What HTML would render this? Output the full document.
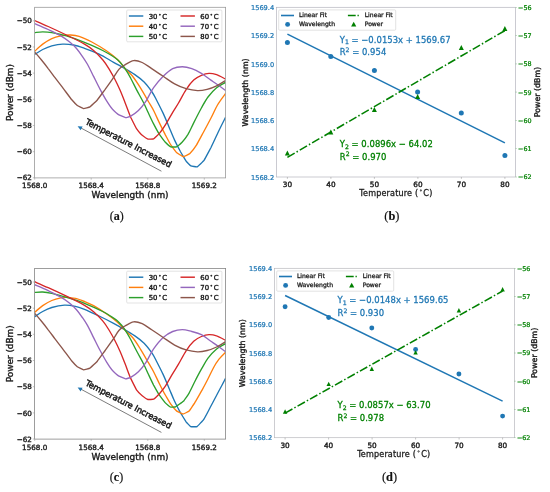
<!DOCTYPE html><html><head><meta charset="utf-8"><title>figure</title><style>html,body{margin:0;padding:0;background:#fff}svg{display:block}</style></head><body>
<svg width="550" height="492" viewBox="0 0 550 492" font-family="DejaVu Sans, Liberation Sans, sans-serif">
<rect width="550" height="492" fill="#fff"/>
<g>
<clipPath id="clipa"><rect x="34.6" y="7.3" width="191.0" height="170.6"/></clipPath>
<g clip-path="url(#clipa)" fill="none" stroke-width="1.35" stroke-linejoin="round" stroke-linecap="butt">
<path d="M34.5,54.5C35.9,53.7 39.8,50.9 42.7,49.5C45.6,48.1 48.5,46.8 51.8,45.9C55.1,45.0 59.1,44.2 62.7,44.1C66.3,44.0 70.0,44.3 73.6,45.0C77.2,45.7 80.2,46.8 84.5,48.3C88.8,49.8 94.2,51.8 99.1,54.1C103.9,56.4 109.3,59.9 113.6,62.3C117.9,64.7 121.5,66.6 125.0,68.6C128.5,70.6 131.3,72.2 134.5,74.4C137.7,76.6 141.2,79.2 144.1,82.0C147.0,84.8 149.6,88.5 151.7,91.5C153.8,94.5 154.6,96.3 156.5,100.0C158.4,103.7 161.1,109.0 163.2,113.4C165.3,117.9 167.0,122.2 168.9,126.7C170.8,131.2 172.7,136.0 174.6,140.1C176.5,144.2 178.5,148.0 180.4,151.5C180.9,152.3 185.7,160.5 186.1,161.1C186.5,161.7 190.5,165.7 190.9,165.9C191.3,166.1 196.7,167.0 197.2,166.8C197.7,166.6 203.7,160.9 204.2,160.1C204.7,159.3 210.3,148.8 210.9,147.7C213.3,142.9 216.1,136.6 218.5,131.5C220.9,126.4 224.4,119.6 225.6,117.2" stroke="#1f77b4"/>
<path d="M34.5,51.4C35.9,50.2 39.8,46.2 42.7,44.1C45.6,42.0 48.8,40.0 51.8,38.6C54.8,37.2 57.9,36.5 60.9,35.9C63.9,35.3 67.0,34.9 70.0,35.0C73.0,35.1 75.5,35.1 79.1,36.3C82.7,37.5 87.2,39.6 91.8,42.0C96.3,44.4 102.0,47.8 106.4,50.8C110.8,53.8 114.9,57.0 118.0,60.0C121.1,63.0 122.6,65.9 125.0,68.6C127.4,71.3 130.0,73.1 132.6,76.3C135.2,79.5 137.7,83.5 140.3,87.7C142.9,91.9 146.2,97.7 148.4,101.5C150.6,105.3 151.8,106.9 153.6,110.5C155.4,114.1 157.5,118.9 159.4,122.9C161.3,126.9 163.2,130.7 165.1,134.4C165.6,135.3 170.3,144.2 170.8,144.9C171.3,145.6 176.0,152.0 176.5,152.5C177.0,153.0 182.7,156.7 183.2,156.7C183.7,156.7 189.4,154.0 189.9,153.5C190.4,153.0 196.1,145.7 196.6,144.9C197.1,144.1 202.7,133.6 203.3,132.5C205.7,128.0 208.6,122.6 211.0,118.0C213.4,113.4 215.1,109.1 217.5,105.0C219.9,100.9 224.2,95.4 225.6,93.5" stroke="#ff7f0e"/>
<path d="M34.5,32.6C35.9,32.5 39.8,31.9 42.7,31.9C45.6,31.9 47.8,31.9 51.8,32.6C55.8,33.3 61.0,34.3 66.4,35.9C71.9,37.5 78.5,39.9 84.5,42.3C90.5,44.7 97.2,47.6 102.7,50.5C108.2,53.4 113.6,56.5 117.3,59.5C121.0,62.5 122.8,65.5 125.0,68.6C127.2,71.7 128.8,74.7 130.7,78.2C132.6,81.7 134.4,85.5 136.5,89.6C138.6,93.6 141.6,98.8 143.5,102.5C145.4,106.2 146.2,108.4 147.9,112.0C149.6,115.6 151.7,120.2 153.6,123.9C155.5,127.6 157.5,131.4 159.4,134.4C159.9,135.1 164.6,141.5 165.1,142.0C165.6,142.5 170.3,146.6 170.8,146.8C171.3,147.0 176.0,147.0 176.5,146.8C177.0,146.6 181.8,142.5 182.3,142.0C182.8,141.5 187.5,135.2 188.0,134.4C189.9,131.2 191.5,127.3 193.7,122.9C195.9,118.5 199.0,112.3 201.4,108.0C203.8,103.7 205.5,100.4 208.0,97.0C210.5,93.6 213.7,90.1 216.6,87.7C219.5,85.3 224.1,83.3 225.6,82.4" stroke="#2ca02c"/>
<path d="M34.5,20.5C36.8,21.5 42.9,24.1 48.2,26.5C53.5,28.9 60.4,32.1 66.4,35.0C72.5,37.9 80.0,41.5 84.5,44.1C89.0,46.7 90.6,47.9 93.6,50.5C96.6,53.1 100.1,56.7 102.7,59.7C105.3,62.8 107.0,65.5 109.0,68.8C111.0,72.1 113.2,76.0 115.0,79.5C116.8,83.0 118.3,86.2 120.0,90.0C121.7,93.8 123.2,97.9 125.0,102.4C126.8,106.9 128.8,112.8 130.7,117.2C131.2,118.2 136.0,127.9 136.5,128.6C137.0,129.3 141.7,134.9 142.2,135.3C142.7,135.7 147.4,139.0 147.9,139.1C148.4,139.2 153.1,139.0 153.6,138.8C154.1,138.6 158.9,134.0 159.4,133.4C159.9,132.8 165.5,124.7 166.0,123.9C168.2,120.4 170.6,115.9 172.7,112.4C174.8,108.9 176.3,106.8 178.5,103.0C180.7,99.2 183.6,93.4 186.1,89.6C188.6,85.8 191.1,82.5 193.7,80.1C196.2,77.7 198.8,76.4 201.4,75.3C204.0,74.2 206.5,73.5 209.0,73.4C211.5,73.3 213.8,73.8 216.6,74.7C219.4,75.7 224.1,78.4 225.6,79.1" stroke="#d62728"/>
<path d="M34.5,23.5C36.8,24.5 43.8,27.4 48.2,29.5C52.6,31.6 57.3,33.8 60.9,35.9C64.5,38.0 67.4,40.2 70.0,42.3C72.6,44.4 74.5,46.2 76.5,48.5C78.5,50.8 80.2,53.2 82.0,55.8C83.8,58.4 85.4,60.6 87.3,64.0C89.2,67.4 91.5,72.2 93.6,76.4C95.7,80.6 97.8,85.0 100.0,89.1C102.2,93.2 104.7,97.8 106.8,101.2C107.3,102.0 112.0,108.8 112.5,109.3C113.0,109.8 118.0,114.3 118.5,114.6C119.0,114.9 125.0,117.5 125.5,117.6C126.0,117.7 130.2,116.5 130.7,116.2C131.2,115.9 137.8,111.2 138.4,110.6C139.0,110.0 145.4,102.0 146.0,101.1C148.5,97.3 150.7,91.8 153.6,87.7C156.5,83.6 160.0,79.5 163.2,76.3C166.4,73.1 169.5,70.2 172.7,68.6C175.9,67.0 179.1,66.7 182.3,66.7C185.5,66.7 188.6,67.5 191.8,68.6C195.0,69.7 198.2,71.5 201.4,73.4C204.6,75.3 207.7,77.9 210.9,80.1C214.1,82.3 218.1,85.0 220.5,86.8C222.9,88.5 224.8,90.0 225.6,90.6" stroke="#9467bd"/>
<path d="M34.5,51.9C35.7,53.2 39.2,57.2 41.5,60.0C43.8,62.8 46.0,65.6 48.2,68.6C50.5,71.5 52.6,74.5 55.0,77.7C57.4,80.9 59.9,84.0 62.7,87.7C63.4,88.6 71.2,99.1 71.8,99.8C72.4,100.5 76.8,105.1 77.3,105.5C77.8,105.9 83.1,108.6 83.6,108.7C84.1,108.8 89.5,107.2 90.0,106.9C90.5,106.6 96.7,100.7 97.3,100.0C97.9,99.3 104.2,90.6 104.8,89.8C107.3,86.3 109.9,82.8 112.3,79.3C114.7,75.8 117.0,71.5 119.1,69.1C121.2,66.7 122.6,66.2 125.0,64.8C127.4,63.4 130.7,61.0 133.6,60.6C136.5,60.2 139.2,61.2 142.2,62.5C145.2,63.8 148.2,66.3 151.7,68.6C155.2,70.9 159.4,73.8 163.2,76.3C167.0,78.8 170.8,81.8 174.6,83.9C178.4,86.0 182.3,87.6 186.1,88.7C189.9,89.8 194.0,90.5 197.5,90.6C201.0,90.7 203.9,90.1 207.1,89.3C210.3,88.5 213.5,87.3 216.6,85.8C219.7,84.3 224.1,81.4 225.6,80.5" stroke="#8c564b"/>
</g>
<rect x="34.6" y="7.3" width="191.0" height="170.6" fill="none" stroke="#9a9a9a" stroke-width="0.8"/>
<line x1="32.800000000000004" x2="34.6" y1="20.8" y2="20.8" stroke="#9a9a9a" stroke-width="0.6"/>
<text x="31.8" y="23.4" text-anchor="end" font-size="7.2" fill="#1a1a1a" stroke="#1a1a1a" stroke-width="0.38">−50</text>
<line x1="32.800000000000004" x2="34.6" y1="47.0" y2="47.0" stroke="#9a9a9a" stroke-width="0.6"/>
<text x="31.8" y="49.6" text-anchor="end" font-size="7.2" fill="#1a1a1a" stroke="#1a1a1a" stroke-width="0.38">−52</text>
<line x1="32.800000000000004" x2="34.6" y1="73.1" y2="73.1" stroke="#9a9a9a" stroke-width="0.6"/>
<text x="31.8" y="75.7" text-anchor="end" font-size="7.2" fill="#1a1a1a" stroke="#1a1a1a" stroke-width="0.38">−54</text>
<line x1="32.800000000000004" x2="34.6" y1="99.3" y2="99.3" stroke="#9a9a9a" stroke-width="0.6"/>
<text x="31.8" y="101.9" text-anchor="end" font-size="7.2" fill="#1a1a1a" stroke="#1a1a1a" stroke-width="0.38">−56</text>
<line x1="32.800000000000004" x2="34.6" y1="125.5" y2="125.5" stroke="#9a9a9a" stroke-width="0.6"/>
<text x="31.8" y="128.1" text-anchor="end" font-size="7.2" fill="#1a1a1a" stroke="#1a1a1a" stroke-width="0.38">−58</text>
<line x1="32.800000000000004" x2="34.6" y1="151.7" y2="151.7" stroke="#9a9a9a" stroke-width="0.6"/>
<text x="31.8" y="154.3" text-anchor="end" font-size="7.2" fill="#1a1a1a" stroke="#1a1a1a" stroke-width="0.38">−60</text>
<line x1="32.800000000000004" x2="34.6" y1="177.8" y2="177.8" stroke="#9a9a9a" stroke-width="0.6"/>
<text x="31.8" y="180.4" text-anchor="end" font-size="7.2" fill="#1a1a1a" stroke="#1a1a1a" stroke-width="0.38">−62</text>
<line x1="34.7" x2="34.7" y1="177.9" y2="179.70000000000002" stroke="#9a9a9a" stroke-width="0.6"/>
<text x="34.7" y="188.2" text-anchor="middle" font-size="7.2" fill="#1a1a1a" stroke="#1a1a1a" stroke-width="0.38">1568.0</text>
<line x1="91.2" x2="91.2" y1="177.9" y2="179.70000000000002" stroke="#9a9a9a" stroke-width="0.6"/>
<text x="91.2" y="188.2" text-anchor="middle" font-size="7.2" fill="#1a1a1a" stroke="#1a1a1a" stroke-width="0.38">1568.4</text>
<line x1="147.8" x2="147.8" y1="177.9" y2="179.70000000000002" stroke="#9a9a9a" stroke-width="0.6"/>
<text x="147.8" y="188.2" text-anchor="middle" font-size="7.2" fill="#1a1a1a" stroke="#1a1a1a" stroke-width="0.38">1568.8</text>
<line x1="204.3" x2="204.3" y1="177.9" y2="179.70000000000002" stroke="#9a9a9a" stroke-width="0.6"/>
<text x="204.3" y="188.2" text-anchor="middle" font-size="7.2" fill="#1a1a1a" stroke="#1a1a1a" stroke-width="0.38">1569.2</text>
<text x="130" y="198.1" text-anchor="middle" font-size="8.95" fill="#1a1a1a" stroke="#1a1a1a" stroke-width="0.38">Wavelength (nm)</text>
<text transform="translate(13.0,92.6) rotate(-90)" text-anchor="middle" font-size="8.9" fill="#1a1a1a" stroke="#1a1a1a" stroke-width="0.38">Power (dBm)</text>
<rect x="126.7" y="10" width="95.2" height="31.8" rx="1" fill="#fff" fill-opacity="0.8" stroke="#d0d0d0" stroke-width="0.6"/>
<line x1="128.9" x2="143.3" y1="16.0" y2="16.0" stroke="#1f77b4" stroke-width="1.45"/>
<text x="148.70000000000002" y="18.5" font-size="6.9" fill="#1a1a1a" stroke="#1a1a1a" stroke-width="0.38">30<tspan font-size="4.4" dy="-2.9" dx="1.0">∘</tspan><tspan dy="2.9" dx="0.9">C</tspan></text>
<line x1="128.9" x2="143.3" y1="26.2" y2="26.2" stroke="#ff7f0e" stroke-width="1.45"/>
<text x="148.70000000000002" y="28.7" font-size="6.9" fill="#1a1a1a" stroke="#1a1a1a" stroke-width="0.38">40<tspan font-size="4.4" dy="-2.9" dx="1.0">∘</tspan><tspan dy="2.9" dx="0.9">C</tspan></text>
<line x1="128.9" x2="143.3" y1="36.4" y2="36.4" stroke="#2ca02c" stroke-width="1.45"/>
<text x="148.70000000000002" y="38.9" font-size="6.9" fill="#1a1a1a" stroke="#1a1a1a" stroke-width="0.38">50<tspan font-size="4.4" dy="-2.9" dx="1.0">∘</tspan><tspan dy="2.9" dx="0.9">C</tspan></text>
<line x1="180.5" x2="194.9" y1="16.0" y2="16.0" stroke="#d62728" stroke-width="1.45"/>
<text x="200.3" y="18.5" font-size="6.9" fill="#1a1a1a" stroke="#1a1a1a" stroke-width="0.38">60<tspan font-size="4.4" dy="-2.9" dx="1.0">∘</tspan><tspan dy="2.9" dx="0.9">C</tspan></text>
<line x1="180.5" x2="194.9" y1="26.2" y2="26.2" stroke="#9467bd" stroke-width="1.45"/>
<text x="200.3" y="28.7" font-size="6.9" fill="#1a1a1a" stroke="#1a1a1a" stroke-width="0.38">70<tspan font-size="4.4" dy="-2.9" dx="1.0">∘</tspan><tspan dy="2.9" dx="0.9">C</tspan></text>
<line x1="180.5" x2="194.9" y1="36.4" y2="36.4" stroke="#8c564b" stroke-width="1.45"/>
<text x="200.3" y="38.9" font-size="6.9" fill="#1a1a1a" stroke="#1a1a1a" stroke-width="0.38">80<tspan font-size="4.4" dy="-2.9" dx="1.0">∘</tspan><tspan dy="2.9" dx="0.9">C</tspan></text>
<line x1="161.4" y1="171.2" x2="80.4" y2="127.7" stroke="#444" stroke-width="0.7"/>
<path transform="translate(77.9,126.4) rotate(-151.8)" d="M0.3,0 L-4.2,-2.1 L-4.2,2.1 Z" fill="#1f77b4"/>
<text transform="translate(84.7,123.8) rotate(27.3)" font-size="8.6" textLength="95.5" lengthAdjust="spacingAndGlyphs" fill="#1a1a1a" class="b" stroke="#1a1a1a" stroke-width="0.5">Temperature Increased</text>
<text x="109.8" y="219.5" font-family="Liberation Serif, serif" font-size="12" fill="#111" stroke="#111" stroke-width="0.15">(<tspan font-weight="bold">a</tspan>)</text>
</g>
<g>
<line x1="287.4" y1="34.2" x2="504.9" y2="142.8" stroke="#1f77b4" stroke-width="1.5"/>
<line x1="287.4" y1="157.3" x2="504.9" y2="30.6" stroke="#008000" stroke-width="1.55" stroke-dasharray="8.4,2.2,1.5,2.2"/>
<circle cx="287.4" cy="42.5" r="2.5" fill="#1f77b4"/>
<circle cx="330.8" cy="56.4" r="2.5" fill="#1f77b4"/>
<circle cx="374.4" cy="70.4" r="2.5" fill="#1f77b4"/>
<circle cx="417.6" cy="91.9" r="2.5" fill="#1f77b4"/>
<circle cx="461.3" cy="113" r="2.5" fill="#1f77b4"/>
<circle cx="504.9" cy="155.6" r="2.5" fill="#1f77b4"/>
<path d="M287.4,150.4 L289.9,155.4 L284.9,155.4 Z" fill="#008000"/>
<path d="M330.8,129.5 L333.3,134.5 L328.3,134.5 Z" fill="#008000"/>
<path d="M374.4,107.1 L376.9,112.1 L371.9,112.1 Z" fill="#008000"/>
<path d="M417.6,94.1 L420.1,99.1 L415.1,99.1 Z" fill="#008000"/>
<path d="M461.3,44.9 L463.8,49.9 L458.8,49.9 Z" fill="#008000"/>
<path d="M504.9,26.1 L507.4,31.1 L502.4,31.1 Z" fill="#008000"/>
<rect x="276.5" y="7.3" width="239.10000000000002" height="169.7" fill="none" stroke="#b4b4be" stroke-width="0.7"/>
<text x="274.2" y="9.9" text-anchor="end" font-size="6.65" fill="#1f77b4" class="t" stroke="#1f77b4" stroke-width="0.24">1569.4</text>
<text x="274.2" y="38.2" text-anchor="end" font-size="6.65" fill="#1f77b4" class="t" stroke="#1f77b4" stroke-width="0.24">1569.2</text>
<text x="274.2" y="66.5" text-anchor="end" font-size="6.65" fill="#1f77b4" class="t" stroke="#1f77b4" stroke-width="0.24">1569.0</text>
<text x="274.2" y="94.7" text-anchor="end" font-size="6.65" fill="#1f77b4" class="t" stroke="#1f77b4" stroke-width="0.24">1568.8</text>
<text x="274.2" y="123.0" text-anchor="end" font-size="6.65" fill="#1f77b4" class="t" stroke="#1f77b4" stroke-width="0.24">1568.6</text>
<text x="274.2" y="151.3" text-anchor="end" font-size="6.65" fill="#1f77b4" class="t" stroke="#1f77b4" stroke-width="0.24">1568.4</text>
<text x="274.2" y="179.6" text-anchor="end" font-size="6.65" fill="#1f77b4" class="t" stroke="#1f77b4" stroke-width="0.24">1568.2</text>
<line x1="515.6" x2="516.9" y1="7.3" y2="7.3" stroke="#008000" stroke-width="0.5" opacity="0.6"/>
<text x="518.1" y="9.7" font-size="6.4" fill="#008000" class="t" stroke="#008000" stroke-width="0.24">−56</text>
<line x1="515.6" x2="516.9" y1="35.6" y2="35.6" stroke="#008000" stroke-width="0.5" opacity="0.6"/>
<text x="518.1" y="38.0" font-size="6.4" fill="#008000" class="t" stroke="#008000" stroke-width="0.24">−57</text>
<line x1="515.6" x2="516.9" y1="63.9" y2="63.9" stroke="#008000" stroke-width="0.5" opacity="0.6"/>
<text x="518.1" y="66.3" font-size="6.4" fill="#008000" class="t" stroke="#008000" stroke-width="0.24">−58</text>
<line x1="515.6" x2="516.9" y1="92.1" y2="92.1" stroke="#008000" stroke-width="0.5" opacity="0.6"/>
<text x="518.1" y="94.5" font-size="6.4" fill="#008000" class="t" stroke="#008000" stroke-width="0.24">−59</text>
<line x1="515.6" x2="516.9" y1="120.4" y2="120.4" stroke="#008000" stroke-width="0.5" opacity="0.6"/>
<text x="518.1" y="122.8" font-size="6.4" fill="#008000" class="t" stroke="#008000" stroke-width="0.24">−60</text>
<line x1="515.6" x2="516.9" y1="148.7" y2="148.7" stroke="#008000" stroke-width="0.5" opacity="0.6"/>
<text x="518.1" y="151.1" font-size="6.4" fill="#008000" class="t" stroke="#008000" stroke-width="0.24">−61</text>
<line x1="515.6" x2="516.9" y1="177.0" y2="177.0" stroke="#008000" stroke-width="0.5" opacity="0.6"/>
<text x="518.1" y="179.4" font-size="6.4" fill="#008000" class="t" stroke="#008000" stroke-width="0.24">−62</text>
<line x1="287.4" x2="287.4" y1="177.0" y2="178.8" stroke="#9a9a9a" stroke-width="0.6"/>
<text x="287.4" y="186.8" text-anchor="middle" font-size="7.3" fill="#1a1a1a" stroke="#1a1a1a" stroke-width="0.38">30</text>
<line x1="330.9" x2="330.9" y1="177.0" y2="178.8" stroke="#9a9a9a" stroke-width="0.6"/>
<text x="330.9" y="186.8" text-anchor="middle" font-size="7.3" fill="#1a1a1a" stroke="#1a1a1a" stroke-width="0.38">40</text>
<line x1="374.4" x2="374.4" y1="177.0" y2="178.8" stroke="#9a9a9a" stroke-width="0.6"/>
<text x="374.4" y="186.8" text-anchor="middle" font-size="7.3" fill="#1a1a1a" stroke="#1a1a1a" stroke-width="0.38">50</text>
<line x1="417.9" x2="417.9" y1="177.0" y2="178.8" stroke="#9a9a9a" stroke-width="0.6"/>
<text x="417.9" y="186.8" text-anchor="middle" font-size="7.3" fill="#1a1a1a" stroke="#1a1a1a" stroke-width="0.38">60</text>
<line x1="461.4" x2="461.4" y1="177.0" y2="178.8" stroke="#9a9a9a" stroke-width="0.6"/>
<text x="461.4" y="186.8" text-anchor="middle" font-size="7.3" fill="#1a1a1a" stroke="#1a1a1a" stroke-width="0.38">70</text>
<line x1="504.9" x2="504.9" y1="177.0" y2="178.8" stroke="#9a9a9a" stroke-width="0.6"/>
<text x="504.9" y="186.8" text-anchor="middle" font-size="7.3" fill="#1a1a1a" stroke="#1a1a1a" stroke-width="0.38">80</text>
<text x="395.9" y="195.8" text-anchor="middle" font-size="8.05" letter-spacing="0.17" fill="#1a1a1a" class="e" stroke="#1a1a1a" stroke-width="0.28">Temperature (<tspan font-size="5" dy="-3.6" dx="0.9">∘</tspan><tspan dy="3.6" dx="0.9">C)</tspan></text>
<text transform="translate(247.9,92.4) rotate(-90)" text-anchor="middle" font-size="7.9" fill="#1a1a1a" stroke="#1a1a1a" stroke-width="0.38">Wavelength (nm)</text>
<text transform="translate(539.8,92.1) rotate(-90)" text-anchor="middle" font-size="7.87" fill="#1a1a1a" stroke="#1a1a1a" stroke-width="0.38">Power (dBm)</text>
<rect x="278.7" y="9.9" width="117" height="20.3" rx="1" fill="#fff" fill-opacity="0.8" stroke="#d0d0d0" stroke-width="0.6"/>
<line x1="281.0" x2="294.0" y1="15.5" y2="15.5" stroke="#1f77b4" stroke-width="1.6"/>
<text x="298.9" y="17.2" font-size="6.1" fill="#1a1a1a" class="e" stroke="#1a1a1a" stroke-width="0.28">Linear Fit</text>
<circle cx="287.6" cy="24.4" r="2.45" fill="#1f77b4"/>
<text x="298.9" y="26.2" font-size="6.1" fill="#1a1a1a" class="e" stroke="#1a1a1a" stroke-width="0.28">Wavelength</text>
<line x1="347.9" x2="359.9" y1="15.5" y2="15.5" stroke="#008000" stroke-width="1.6" stroke-dasharray="7.8,1.8,1.3,1.8"/>
<text x="364.7" y="17.2" font-size="6.1" fill="#1a1a1a" class="e" stroke="#1a1a1a" stroke-width="0.28">Linear Fit</text>
<path d="M353.7,21.7 L356.3,26.6 L351.1,26.6 Z" fill="#008000"/>
<text x="364.7" y="26.2" font-size="6.1" fill="#1a1a1a" class="e" stroke="#1a1a1a" stroke-width="0.28">Power</text>
<text x="339.7" y="42.5" font-size="8.45" letter-spacing="0.04" word-spacing="-0.1" fill="#1f77b4" class="q" stroke="#1f77b4" stroke-width="0.27">Y<tspan font-size="6.2" dy="1.9">1</tspan><tspan dy="-1.9"> = −0.0153x + 1569.67</tspan></text>
<text x="339.7" y="55.300000000000004" font-size="8.45" letter-spacing="0.04" word-spacing="-0.1" fill="#1f77b4" class="q" stroke="#1f77b4" stroke-width="0.27">R<tspan font-size="6.2" dy="-3.4">2</tspan><tspan dy="3.4"> = 0.954</tspan></text>
<text x="339.8" y="146.9" font-size="8.45" letter-spacing="0.04" word-spacing="-0.1" fill="#008000" class="q" stroke="#008000" stroke-width="0.27">Y<tspan font-size="6.2" dy="1.9">2</tspan><tspan dy="-1.9"> = 0.0896x − 64.02</tspan></text>
<text x="339.8" y="159.5" font-size="8.45" letter-spacing="0.04" word-spacing="-0.1" fill="#008000" class="q" stroke="#008000" stroke-width="0.27">R<tspan font-size="6.2" dy="-3.4">2</tspan><tspan dy="3.4"> = 0.970</tspan></text>
<text x="384.3" y="219.5" font-family="Liberation Serif, serif" font-size="12.4" fill="#111" stroke="#111" stroke-width="0.15">(<tspan font-weight="bold">b</tspan>)</text>
</g>
<g>
<clipPath id="clipc"><rect x="34.6" y="268.5" width="191.0" height="170.60000000000002"/></clipPath>
<g clip-path="url(#clipc)" fill="none" stroke-width="1.35" stroke-linejoin="round" stroke-linecap="butt">
<path d="M34.5,316.9C35.9,316.0 39.8,313.1 42.7,311.5C45.6,309.9 48.2,308.6 51.8,307.5C55.4,306.4 60.5,305.3 64.5,305.1C68.5,304.9 72.2,305.7 75.5,306.4C78.8,307.1 80.6,307.7 84.5,309.3C88.4,310.9 94.2,313.7 99.1,316.0C103.9,318.3 109.3,321.0 113.6,323.3C117.9,325.6 121.5,327.7 125.0,329.8C128.5,331.8 131.3,333.4 134.5,335.6C137.7,337.8 141.2,340.4 144.1,343.2C147.0,346.0 149.6,349.7 151.7,352.7C153.8,355.7 154.6,357.5 156.5,361.2C158.4,364.9 161.1,370.2 163.2,374.6C165.3,379.1 167.0,383.4 168.9,387.9C170.8,392.3 172.7,397.2 174.6,401.3C176.5,405.4 178.5,409.3 180.4,412.7C180.9,413.5 185.7,421.2 186.1,421.8C186.5,422.4 190.3,426.4 190.7,426.6C191.1,426.8 196.5,426.9 197.0,426.6C197.5,426.3 203.3,420.1 203.8,419.3C204.3,418.5 209.9,408.0 210.4,407.0C212.6,402.9 214.4,399.5 216.9,394.7C219.4,389.9 224.2,381.1 225.6,378.4" stroke="#1f77b4"/>
<path d="M34.5,312.4C35.9,311.3 39.8,307.6 42.7,305.6C45.6,303.6 48.8,301.8 51.8,300.5C54.8,299.2 58.5,298.3 60.9,297.8C63.3,297.3 64.0,297.2 66.4,297.3C68.8,297.4 72.5,297.7 75.5,298.4C78.5,299.1 81.5,300.3 84.5,301.5C87.5,302.7 89.9,303.6 93.6,305.7C97.2,307.8 102.3,311.0 106.4,313.8C110.5,316.6 114.9,320.0 118.0,322.7C121.1,325.4 122.6,327.6 125.0,330.1C127.4,332.6 130.0,334.4 132.6,337.5C135.2,340.6 137.7,344.7 140.3,348.9C142.9,353.1 146.2,358.9 148.4,362.7C150.6,366.5 151.8,368.2 153.6,371.7C155.4,375.2 157.5,379.9 159.4,383.7C161.3,387.5 163.2,391.3 165.1,394.7C165.6,395.5 170.3,403.5 170.8,404.2C171.3,404.9 176.3,410.7 176.8,411.1C177.3,411.5 182.4,414.0 182.9,414.0C183.4,414.0 188.6,411.6 189.1,411.1C189.6,410.6 195.1,402.2 195.6,401.3C197.8,397.7 200.2,393.3 202.2,389.8C204.2,386.2 205.5,383.7 207.4,380.0C209.3,376.3 211.6,371.2 213.5,367.7C215.4,364.2 217.0,361.8 219.0,359.2C221.0,356.6 224.5,353.4 225.6,352.2" stroke="#ff7f0e"/>
<path d="M34.5,292.4C35.9,292.3 39.8,291.9 42.7,292.0C45.6,292.1 47.8,292.4 51.8,293.3C55.8,294.2 61.0,295.6 66.4,297.3C71.9,299.0 78.5,300.9 84.5,303.3C90.5,305.7 98.5,309.4 102.7,311.5C107.0,313.6 107.6,314.2 110.0,315.8C112.4,317.4 115.3,319.1 117.3,320.8C119.3,322.5 120.6,324.2 122.0,325.8C123.4,327.4 124.0,328.3 125.5,330.6C127.0,332.9 128.9,336.1 130.7,339.5C132.5,342.9 134.4,346.8 136.5,350.8C138.6,354.8 141.6,360.0 143.5,363.7C145.4,367.4 146.2,369.6 147.9,373.2C149.6,376.8 151.7,381.4 153.6,385.1C154.1,386.0 158.9,394.5 159.4,395.2C159.9,395.9 164.7,402.2 165.1,402.7C165.5,403.2 169.9,406.8 170.3,407.0C170.7,407.2 174.7,407.2 175.2,407.0C175.7,406.8 182.8,401.9 183.4,401.3C184.0,400.7 188.6,394.0 189.1,393.1C191.1,389.6 193.5,384.0 195.6,380.0C197.7,376.0 199.3,372.8 201.4,369.2C203.5,365.6 205.5,361.6 208.0,358.2C210.5,354.8 213.7,351.3 216.6,348.9C219.5,346.5 224.1,344.5 225.6,343.6" stroke="#2ca02c"/>
<path d="M34.5,281.7C36.8,282.7 42.9,285.3 48.2,287.7C53.5,290.1 60.4,293.3 66.4,296.2C72.5,299.1 80.0,302.7 84.5,305.3C89.0,307.9 90.6,309.1 93.6,311.7C96.6,314.3 100.1,317.8 102.7,320.9C105.3,323.9 107.0,326.7 109.0,330.0C111.0,333.3 113.2,337.2 115.0,340.7C116.8,344.2 118.3,347.4 120.0,351.2C121.7,355.0 123.2,359.1 125.0,363.6C126.8,368.1 128.8,374.0 130.7,378.4C131.2,379.4 136.0,389.1 136.5,389.8C137.0,390.5 141.7,395.3 142.2,395.7C142.7,396.1 147.4,399.4 147.9,399.5C148.4,399.6 153.1,399.4 153.6,399.2C154.1,399.0 158.9,394.4 159.4,393.8C159.9,393.2 165.5,385.9 166.0,385.1C168.2,381.7 170.6,377.1 172.7,373.6C174.8,370.1 176.3,368.0 178.5,364.2C180.7,360.4 183.6,354.6 186.1,350.8C188.6,347.0 191.1,343.7 193.7,341.3C196.2,338.9 198.8,337.6 201.4,336.5C204.0,335.4 206.5,334.7 209.0,334.6C211.5,334.5 213.8,334.9 216.6,335.9C219.4,336.8 224.1,339.6 225.6,340.3" stroke="#d62728"/>
<path d="M34.5,284.7C36.8,285.7 43.8,288.6 48.2,290.7C52.6,292.8 57.3,295.0 60.9,297.1C64.5,299.2 67.4,301.4 70.0,303.5C72.6,305.6 74.5,307.4 76.5,309.7C78.5,311.9 80.2,314.4 82.0,317.0C83.8,319.6 85.4,321.8 87.3,325.2C89.2,328.6 91.5,333.4 93.6,337.6C95.7,341.8 97.8,346.2 100.0,350.3C102.2,354.4 104.7,359.0 106.8,362.4C107.3,363.2 112.0,370.0 112.5,370.5C113.0,371.0 118.0,375.5 118.5,375.8C119.0,376.1 125.0,378.7 125.5,378.8C126.0,378.9 130.2,377.7 130.7,377.4C131.2,377.1 137.8,372.4 138.4,371.8C139.0,371.2 145.4,363.2 146.0,362.3C148.5,358.5 150.7,353.0 153.6,348.9C156.5,344.8 160.0,340.4 163.2,337.5C166.4,334.6 169.5,332.8 172.7,331.5C175.9,330.2 179.1,329.6 182.3,329.6C185.5,329.6 188.6,330.7 191.8,331.5C195.0,332.3 198.2,333.0 201.4,334.6C204.6,336.2 207.7,339.1 210.9,341.3C214.1,343.5 218.1,346.2 220.5,348.0C222.9,349.8 224.8,351.2 225.6,351.8" stroke="#9467bd"/>
<path d="M34.5,313.1C35.7,314.4 39.2,318.4 41.5,321.2C43.8,324.0 46.0,326.8 48.2,329.8C50.5,332.7 52.6,335.7 55.0,338.9C57.4,342.1 59.9,345.2 62.7,348.9C63.4,349.8 71.2,360.3 71.8,361.0C72.4,361.7 76.8,366.3 77.3,366.7C77.8,367.1 83.1,369.8 83.6,369.9C84.1,370.0 89.5,368.4 90.0,368.1C90.5,367.8 96.7,361.9 97.3,361.2C97.9,360.5 104.2,351.8 104.8,351.0C107.3,347.6 109.9,343.9 112.3,340.5C114.7,337.1 117.0,332.7 119.1,330.3C121.2,327.9 122.6,327.4 125.0,326.0C127.4,324.6 130.7,322.2 133.6,321.8C136.5,321.4 139.2,322.4 142.2,323.7C145.2,325.0 148.2,327.5 151.7,329.8C155.2,332.1 159.4,334.9 163.2,337.5C167.0,340.1 170.8,343.0 174.6,345.1C178.4,347.2 182.3,348.8 186.1,349.9C189.9,351.0 194.0,351.7 197.5,351.8C201.0,351.9 203.9,351.3 207.1,350.5C210.3,349.7 213.5,348.5 216.6,347.0C219.7,345.5 224.1,342.6 225.6,341.7" stroke="#8c564b"/>
</g>
<rect x="34.6" y="268.5" width="191.0" height="170.60000000000002" fill="none" stroke="#858585" stroke-width="0.8"/>
<line x1="32.800000000000004" x2="34.6" y1="282.0" y2="282.0" stroke="#9a9a9a" stroke-width="0.6"/>
<text x="31.8" y="284.6" text-anchor="end" font-size="7.2" fill="#1a1a1a" stroke="#1a1a1a" stroke-width="0.38">−50</text>
<line x1="32.800000000000004" x2="34.6" y1="308.2" y2="308.2" stroke="#9a9a9a" stroke-width="0.6"/>
<text x="31.8" y="310.8" text-anchor="end" font-size="7.2" fill="#1a1a1a" stroke="#1a1a1a" stroke-width="0.38">−52</text>
<line x1="32.800000000000004" x2="34.6" y1="334.3" y2="334.3" stroke="#9a9a9a" stroke-width="0.6"/>
<text x="31.8" y="336.9" text-anchor="end" font-size="7.2" fill="#1a1a1a" stroke="#1a1a1a" stroke-width="0.38">−54</text>
<line x1="32.800000000000004" x2="34.6" y1="360.5" y2="360.5" stroke="#9a9a9a" stroke-width="0.6"/>
<text x="31.8" y="363.1" text-anchor="end" font-size="7.2" fill="#1a1a1a" stroke="#1a1a1a" stroke-width="0.38">−56</text>
<line x1="32.800000000000004" x2="34.6" y1="386.7" y2="386.7" stroke="#9a9a9a" stroke-width="0.6"/>
<text x="31.8" y="389.3" text-anchor="end" font-size="7.2" fill="#1a1a1a" stroke="#1a1a1a" stroke-width="0.38">−58</text>
<line x1="32.800000000000004" x2="34.6" y1="412.9" y2="412.9" stroke="#9a9a9a" stroke-width="0.6"/>
<text x="31.8" y="415.5" text-anchor="end" font-size="7.2" fill="#1a1a1a" stroke="#1a1a1a" stroke-width="0.38">−60</text>
<line x1="32.800000000000004" x2="34.6" y1="439.0" y2="439.0" stroke="#9a9a9a" stroke-width="0.6"/>
<text x="31.8" y="441.6" text-anchor="end" font-size="7.2" fill="#1a1a1a" stroke="#1a1a1a" stroke-width="0.38">−62</text>
<line x1="34.7" x2="34.7" y1="439.1" y2="440.90000000000003" stroke="#9a9a9a" stroke-width="0.6"/>
<text x="34.7" y="449.8" text-anchor="middle" font-size="7.2" fill="#1a1a1a" stroke="#1a1a1a" stroke-width="0.38">1568.0</text>
<line x1="91.2" x2="91.2" y1="439.1" y2="440.90000000000003" stroke="#9a9a9a" stroke-width="0.6"/>
<text x="91.2" y="449.8" text-anchor="middle" font-size="7.2" fill="#1a1a1a" stroke="#1a1a1a" stroke-width="0.38">1568.4</text>
<line x1="147.8" x2="147.8" y1="439.1" y2="440.90000000000003" stroke="#9a9a9a" stroke-width="0.6"/>
<text x="147.8" y="449.8" text-anchor="middle" font-size="7.2" fill="#1a1a1a" stroke="#1a1a1a" stroke-width="0.38">1568.8</text>
<line x1="204.3" x2="204.3" y1="439.1" y2="440.90000000000003" stroke="#9a9a9a" stroke-width="0.6"/>
<text x="204.3" y="449.8" text-anchor="middle" font-size="7.2" fill="#1a1a1a" stroke="#1a1a1a" stroke-width="0.38">1569.2</text>
<text x="130" y="460.1" text-anchor="middle" font-size="8.95" fill="#1a1a1a" stroke="#1a1a1a" stroke-width="0.38">Wavelength (nm)</text>
<text transform="translate(13.0,353.8) rotate(-90)" text-anchor="middle" font-size="8.9" fill="#1a1a1a" stroke="#1a1a1a" stroke-width="0.38">Power (dBm)</text>
<rect x="126.7" y="271.2" width="95.2" height="31.8" rx="1" fill="#fff" fill-opacity="0.8" stroke="#d0d0d0" stroke-width="0.6"/>
<line x1="128.9" x2="143.3" y1="277.2" y2="277.2" stroke="#1f77b4" stroke-width="1.45"/>
<text x="148.70000000000002" y="279.7" font-size="6.9" fill="#1a1a1a" stroke="#1a1a1a" stroke-width="0.38">30<tspan font-size="4.4" dy="-2.9" dx="1.0">∘</tspan><tspan dy="2.9" dx="0.9">C</tspan></text>
<line x1="128.9" x2="143.3" y1="287.4" y2="287.4" stroke="#ff7f0e" stroke-width="1.45"/>
<text x="148.70000000000002" y="289.9" font-size="6.9" fill="#1a1a1a" stroke="#1a1a1a" stroke-width="0.38">40<tspan font-size="4.4" dy="-2.9" dx="1.0">∘</tspan><tspan dy="2.9" dx="0.9">C</tspan></text>
<line x1="128.9" x2="143.3" y1="297.59999999999997" y2="297.59999999999997" stroke="#2ca02c" stroke-width="1.45"/>
<text x="148.70000000000002" y="300.1" font-size="6.9" fill="#1a1a1a" stroke="#1a1a1a" stroke-width="0.38">50<tspan font-size="4.4" dy="-2.9" dx="1.0">∘</tspan><tspan dy="2.9" dx="0.9">C</tspan></text>
<line x1="180.5" x2="194.9" y1="277.2" y2="277.2" stroke="#d62728" stroke-width="1.45"/>
<text x="200.3" y="279.7" font-size="6.9" fill="#1a1a1a" stroke="#1a1a1a" stroke-width="0.38">60<tspan font-size="4.4" dy="-2.9" dx="1.0">∘</tspan><tspan dy="2.9" dx="0.9">C</tspan></text>
<line x1="180.5" x2="194.9" y1="287.4" y2="287.4" stroke="#9467bd" stroke-width="1.45"/>
<text x="200.3" y="289.9" font-size="6.9" fill="#1a1a1a" stroke="#1a1a1a" stroke-width="0.38">70<tspan font-size="4.4" dy="-2.9" dx="1.0">∘</tspan><tspan dy="2.9" dx="0.9">C</tspan></text>
<line x1="180.5" x2="194.9" y1="297.59999999999997" y2="297.59999999999997" stroke="#8c564b" stroke-width="1.45"/>
<text x="200.3" y="300.1" font-size="6.9" fill="#1a1a1a" stroke="#1a1a1a" stroke-width="0.38">80<tspan font-size="4.4" dy="-2.9" dx="1.0">∘</tspan><tspan dy="2.9" dx="0.9">C</tspan></text>
<line x1="161.4" y1="432.4" x2="80.4" y2="388.9" stroke="#444" stroke-width="0.7"/>
<path transform="translate(77.9,387.6) rotate(-151.8)" d="M0.3,0 L-4.2,-2.1 L-4.2,2.1 Z" fill="#1f77b4"/>
<text transform="translate(84.7,385.0) rotate(27.3)" font-size="8.6" textLength="95.5" lengthAdjust="spacingAndGlyphs" fill="#1a1a1a" class="b" stroke="#1a1a1a" stroke-width="0.5">Temperature Increased</text>
<text x="109.8" y="480.7" font-family="Liberation Serif, serif" font-size="12" fill="#111" stroke="#111" stroke-width="0.15">(<tspan font-weight="bold">c</tspan>)</text>
</g>
<g>
<line x1="285.1" y1="295.5" x2="502.6" y2="401.2" stroke="#1f77b4" stroke-width="1.5"/>
<line x1="285.1" y1="413.1" x2="502.6" y2="291.0" stroke="#008000" stroke-width="1.55" stroke-dasharray="8.4,2.2,1.5,2.2"/>
<circle cx="285.1" cy="306.7" r="2.45" fill="#1f77b4"/>
<circle cx="328.7" cy="317.5" r="2.45" fill="#1f77b4"/>
<circle cx="371.8" cy="328" r="2.45" fill="#1f77b4"/>
<circle cx="415.6" cy="349.5" r="2.45" fill="#1f77b4"/>
<circle cx="458.9" cy="374" r="2.45" fill="#1f77b4"/>
<circle cx="502.6" cy="416.1" r="2.45" fill="#1f77b4"/>
<path d="M285.1,409.3 L287.3,413.7 L282.90000000000003,413.7 Z" fill="#008000"/>
<path d="M328.7,381.7 L330.9,386.09999999999997 L326.5,386.09999999999997 Z" fill="#008000"/>
<path d="M371.8,366.5 L374.0,370.9 L369.6,370.9 Z" fill="#008000"/>
<path d="M415.6,350.2 L417.8,354.59999999999997 L413.40000000000003,354.59999999999997 Z" fill="#008000"/>
<path d="M458.9,308.0 L461.09999999999997,312.4 L456.7,312.4 Z" fill="#008000"/>
<path d="M502.6,287.1 L504.8,291.5 L500.40000000000003,291.5 Z" fill="#008000"/>
<rect x="274.5" y="268.3" width="239.89999999999998" height="169.39999999999998" fill="none" stroke="#b8b8be" stroke-width="0.7"/>
<text x="272.2" y="270.9" text-anchor="end" font-size="6.65" fill="#1f77b4" class="t" stroke="#1f77b4" stroke-width="0.24">1569.4</text>
<text x="272.2" y="299.1" text-anchor="end" font-size="6.65" fill="#1f77b4" class="t" stroke="#1f77b4" stroke-width="0.24">1569.2</text>
<text x="272.2" y="327.4" text-anchor="end" font-size="6.65" fill="#1f77b4" class="t" stroke="#1f77b4" stroke-width="0.24">1569.0</text>
<text x="272.2" y="355.6" text-anchor="end" font-size="6.65" fill="#1f77b4" class="t" stroke="#1f77b4" stroke-width="0.24">1568.8</text>
<text x="272.2" y="383.8" text-anchor="end" font-size="6.65" fill="#1f77b4" class="t" stroke="#1f77b4" stroke-width="0.24">1568.6</text>
<text x="272.2" y="412.1" text-anchor="end" font-size="6.65" fill="#1f77b4" class="t" stroke="#1f77b4" stroke-width="0.24">1568.4</text>
<text x="272.2" y="440.3" text-anchor="end" font-size="6.65" fill="#1f77b4" class="t" stroke="#1f77b4" stroke-width="0.24">1568.2</text>
<line x1="514.4" x2="515.6999999999999" y1="268.3" y2="268.3" stroke="#008000" stroke-width="0.5" opacity="0.6"/>
<text x="516.9" y="270.7" font-size="6.4" fill="#008000" class="t" stroke="#008000" stroke-width="0.24">−56</text>
<line x1="514.4" x2="515.6999999999999" y1="296.5" y2="296.5" stroke="#008000" stroke-width="0.5" opacity="0.6"/>
<text x="516.9" y="298.9" font-size="6.4" fill="#008000" class="t" stroke="#008000" stroke-width="0.24">−57</text>
<line x1="514.4" x2="515.6999999999999" y1="324.8" y2="324.8" stroke="#008000" stroke-width="0.5" opacity="0.6"/>
<text x="516.9" y="327.2" font-size="6.4" fill="#008000" class="t" stroke="#008000" stroke-width="0.24">−58</text>
<line x1="514.4" x2="515.6999999999999" y1="353.0" y2="353.0" stroke="#008000" stroke-width="0.5" opacity="0.6"/>
<text x="516.9" y="355.4" font-size="6.4" fill="#008000" class="t" stroke="#008000" stroke-width="0.24">−59</text>
<line x1="514.4" x2="515.6999999999999" y1="381.2" y2="381.2" stroke="#008000" stroke-width="0.5" opacity="0.6"/>
<text x="516.9" y="383.6" font-size="6.4" fill="#008000" class="t" stroke="#008000" stroke-width="0.24">−60</text>
<line x1="514.4" x2="515.6999999999999" y1="409.5" y2="409.5" stroke="#008000" stroke-width="0.5" opacity="0.6"/>
<text x="516.9" y="411.9" font-size="6.4" fill="#008000" class="t" stroke="#008000" stroke-width="0.24">−61</text>
<line x1="514.4" x2="515.6999999999999" y1="437.7" y2="437.7" stroke="#008000" stroke-width="0.5" opacity="0.6"/>
<text x="516.9" y="440.1" font-size="6.4" fill="#008000" class="t" stroke="#008000" stroke-width="0.24">−62</text>
<line x1="285.1" x2="285.1" y1="437.7" y2="439.5" stroke="#9a9a9a" stroke-width="0.6"/>
<text x="285.1" y="447.5" text-anchor="middle" font-size="7.3" fill="#1a1a1a" stroke="#1a1a1a" stroke-width="0.38">30</text>
<line x1="328.6" x2="328.6" y1="437.7" y2="439.5" stroke="#9a9a9a" stroke-width="0.6"/>
<text x="328.6" y="447.5" text-anchor="middle" font-size="7.3" fill="#1a1a1a" stroke="#1a1a1a" stroke-width="0.38">40</text>
<line x1="372.1" x2="372.1" y1="437.7" y2="439.5" stroke="#9a9a9a" stroke-width="0.6"/>
<text x="372.1" y="447.5" text-anchor="middle" font-size="7.3" fill="#1a1a1a" stroke="#1a1a1a" stroke-width="0.38">50</text>
<line x1="415.6" x2="415.6" y1="437.7" y2="439.5" stroke="#9a9a9a" stroke-width="0.6"/>
<text x="415.6" y="447.5" text-anchor="middle" font-size="7.3" fill="#1a1a1a" stroke="#1a1a1a" stroke-width="0.38">60</text>
<line x1="459.1" x2="459.1" y1="437.7" y2="439.5" stroke="#9a9a9a" stroke-width="0.6"/>
<text x="459.1" y="447.5" text-anchor="middle" font-size="7.3" fill="#1a1a1a" stroke="#1a1a1a" stroke-width="0.38">70</text>
<line x1="502.6" x2="502.6" y1="437.7" y2="439.5" stroke="#9a9a9a" stroke-width="0.6"/>
<text x="502.6" y="447.5" text-anchor="middle" font-size="7.3" fill="#1a1a1a" stroke="#1a1a1a" stroke-width="0.38">80</text>
<text x="393.7" y="457.0" text-anchor="middle" font-size="8.05" letter-spacing="0.17" fill="#1a1a1a" class="e" stroke="#1a1a1a" stroke-width="0.28">Temperature (<tspan font-size="5" dy="-3.6" dx="0.9">∘</tspan><tspan dy="3.6" dx="0.9">C)</tspan></text>
<text transform="translate(245.3,353.2) rotate(-90)" text-anchor="middle" font-size="7.9" fill="#1a1a1a" stroke="#1a1a1a" stroke-width="0.38">Wavelength (nm)</text>
<text transform="translate(537.3,352.9) rotate(-90)" text-anchor="middle" font-size="7.87" fill="#1a1a1a" stroke="#1a1a1a" stroke-width="0.38">Power (dBm)</text>
<rect x="276.7" y="270.9" width="117" height="20.3" rx="1" fill="#fff" fill-opacity="0.8" stroke="#d0d0d0" stroke-width="0.6"/>
<line x1="279.0" x2="292.0" y1="276.5" y2="276.5" stroke="#1f77b4" stroke-width="1.6"/>
<text x="296.9" y="278.2" font-size="6.1" fill="#1a1a1a" class="e" stroke="#1a1a1a" stroke-width="0.28">Linear Fit</text>
<circle cx="285.6" cy="285.4" r="2.45" fill="#1f77b4"/>
<text x="296.9" y="287.2" font-size="6.1" fill="#1a1a1a" class="e" stroke="#1a1a1a" stroke-width="0.28">Wavelength</text>
<line x1="345.9" x2="357.9" y1="276.5" y2="276.5" stroke="#008000" stroke-width="1.6" stroke-dasharray="7.8,1.8,1.3,1.8"/>
<text x="362.7" y="278.2" font-size="6.1" fill="#1a1a1a" class="e" stroke="#1a1a1a" stroke-width="0.28">Linear Fit</text>
<path d="M351.7,282.7 L354.3,287.6 L349.1,287.6 Z" fill="#008000"/>
<text x="362.7" y="287.2" font-size="6.1" fill="#1a1a1a" class="e" stroke="#1a1a1a" stroke-width="0.28">Power</text>
<text x="337.5" y="302.79999999999995" font-size="8.45" letter-spacing="0.04" word-spacing="-0.1" fill="#1f77b4" class="q" stroke="#1f77b4" stroke-width="0.27">Y<tspan font-size="6.2" dy="1.9">1</tspan><tspan dy="-1.9"> = −0.0148x + 1569.65</tspan></text>
<text x="337.5" y="316.2" font-size="8.45" letter-spacing="0.04" word-spacing="-0.1" fill="#1f77b4" class="q" stroke="#1f77b4" stroke-width="0.27">R<tspan font-size="6.2" dy="-3.4">2</tspan><tspan dy="3.4"> = 0.930</tspan></text>
<text x="337.5" y="407.59999999999997" font-size="8.45" letter-spacing="0.04" word-spacing="-0.1" fill="#008000" class="q" stroke="#008000" stroke-width="0.27">Y<tspan font-size="6.2" dy="1.9">2</tspan><tspan dy="-1.9"> = 0.0857x − 63.70</tspan></text>
<text x="337.5" y="421.3" font-size="8.45" letter-spacing="0.04" word-spacing="-0.1" fill="#008000" class="q" stroke="#008000" stroke-width="0.27">R<tspan font-size="6.2" dy="-3.4">2</tspan><tspan dy="3.4"> = 0.978</tspan></text>
<text x="381.9" y="480.5" font-family="Liberation Serif, serif" font-size="12.4" fill="#111" stroke="#111" stroke-width="0.15">(<tspan font-weight="bold">d</tspan>)</text>
</g>
</svg></body></html>
